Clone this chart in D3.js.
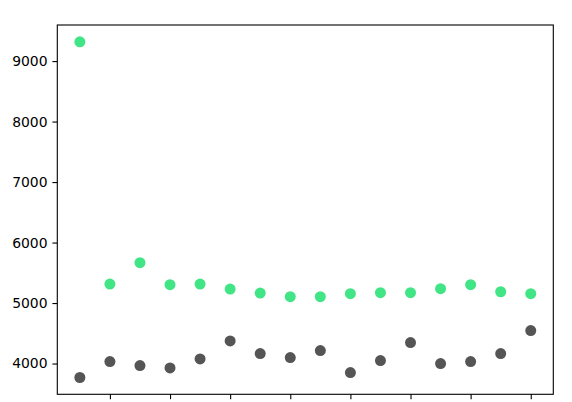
<!DOCTYPE html>
<html>
<head>
<meta charset="utf-8">
<script src="https://cdn.jsdelivr.net/npm/d3@7"></script>
<style>
  body { margin: 0; background: #fff; }
  text { font-family: "DejaVu Sans", sans-serif; }
</style>
</head>
<body>
<svg id="viz"></svg>
<script>
// x positions (index), ticks shown on odd ones, no labels
const xs = d3.range(16);
const xTicks = [1, 3, 5, 7, 9, 11, 13, 15];
const yTicks = [4000, 5000, 6000, 7000, 8000, 9000];

const greenVals = [9319, 5314, 5667, 5304, 5314, 5231, 5165, 5105,
  5105, 5154, 5171, 5171, 5237, 5303, 5187, 5154];
const greyVals = [3769, 4033, 3967, 3928, 4077, 4374, 4165, 4099,
  4215, 3851, 4050, 4347, 4000, 4033, 4165, 4545];

const W = 572, H = 402;
const margin = { left: 57.3, right: 18.7, top: 25, bottom: 7.7 };
const width = W - margin.left - margin.right;
const height = H - margin.top - margin.bottom;

const svg = d3.select('#viz').attr('width', W).attr('height', H);
const g = svg.append('g')
  .attr('transform', 'translate(' + margin.left + ',' + margin.top + ')');

// matplotlib-like 5% margins
const all = greenVals.concat(greyVals);
const yMin = d3.min(all), yMax = d3.max(all);
const yPad = (yMax - yMin) * 0.05;
const xPad = (d3.max(xs) - d3.min(xs)) * 0.05;

const x = d3.scaleLinear()
  .domain([d3.min(xs) - xPad, d3.max(xs) + xPad])
  .range([0, width]);
const y = d3.scaleLinear()
  .domain([yMin - yPad, yMax + yPad])
  .range([height, 0]);

// points
g.append('g').selectAll('circle')
  .data(xs)
  .join('circle')
  .attr('cx', (d) => x(d))
  .attr('cy', (d) => y(greenVals[d]))
  .attr('r', 5.5)
  .attr('fill', '#42e585');

g.append('g').selectAll('circle')
  .data(xs)
  .join('circle')
  .attr('cx', (d) => x(d))
  .attr('cy', (d) => y(greyVals[d]))
  .attr('r', 5.5)
  .attr('fill', '#555555');

// axes
const yAxis = g.append('g')
  .call(d3.axisLeft(y).tickValues(yTicks).tickSize(4.9).tickPadding(4.9).tickFormat(d3.format('d')));
const xAxis = g.append('g')
  .attr('transform', 'translate(0,' + height + ')')
  .call(d3.axisBottom(x).tickValues(xTicks).tickSize(4.9).tickFormat(''));

[yAxis, xAxis].forEach((a) => {
  a.select('.domain').remove();
  a.selectAll('line').attr('stroke', '#000').attr('stroke-width', 1.1);
});
yAxis.selectAll('text')
  .attr('font-size', '13.9px')
  .attr('fill', '#000')
  .attr('font-family', 'DejaVu Sans');

// frame
g.append('rect')
  .attr('width', width)
  .attr('height', height)
  .attr('fill', 'none')
  .attr('stroke', '#000')
  .attr('stroke-width', 1.1);
</script>
</body>
</html>
